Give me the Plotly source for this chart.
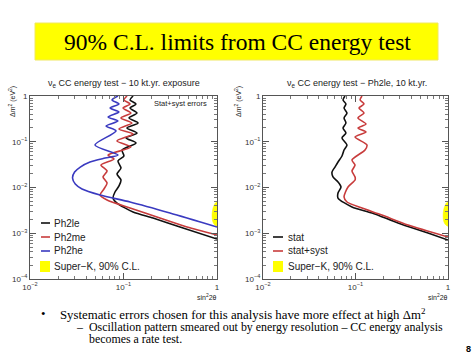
import plotly.graph_objects as go

W, H = 474, 355

# ---------------- data ----------------
# Left panel: nu_e CC energy test - 10 kt.yr. exposure (stat+syst errors)
ph2le_sin = [0.1265, 0.1175, 0.136, 0.1175, 0.1395, 0.1146, 0.143, 0.109, 0.1395, 0.1064,
             0.136, 0.0964, 0.101, 0.0873, 0.094, 0.0852, 0.094, 0.0895, 0.0811, 0.0773,
             0.0852, 0.1265, 0.207, 0.402, 1.0]
ph2le_dm2 = [1.0, 0.818, 0.669, 0.547, 0.425, 0.331, 0.257, 0.200, 0.155, 0.121,
             0.094, 0.066, 0.0488, 0.038, 0.0267, 0.0197, 0.0146, 0.0108, 0.00798, 0.00589,
             0.00458, 0.00291, 0.00215, 0.00137, 0.000748]

ph2me_sin = [0.109, 0.101, 0.1175, 0.0988, 0.120, 0.094, 0.123, 0.0895, 0.1265, 0.0852,
             0.120, 0.0683, 0.0791, 0.0574, 0.0667, 0.0604, 0.0667, 0.0618, 0.0561, 0.0667,
             0.1175, 0.245, 0.478, 1.0]
ph2me_dm2 = [1.0, 0.818, 0.669, 0.547, 0.425, 0.331, 0.257, 0.190, 0.148, 0.104,
             0.0767, 0.0513, 0.042, 0.031, 0.023, 0.017, 0.0125, 0.00927, 0.00686, 0.00533,
             0.00356, 0.00215, 0.00137, 0.000916]

ph2he_sin = [0.0873, 0.0753, 0.0895, 0.0718, 0.0895, 0.0683, 0.0873, 0.065, 0.0832, 0.0495,
             0.0873, 0.0634, 0.0438, 0.0345, 0.030, 0.0285, 0.0305, 0.036, 0.0561, 0.1175,
             0.314, 1.0]
ph2he_dm2 = [1.0, 0.818, 0.669, 0.547, 0.447, 0.347, 0.284, 0.221, 0.172, 0.085,
             0.0513, 0.0441, 0.0361, 0.028, 0.0218, 0.0161, 0.0119, 0.00927, 0.00686, 0.00482,
             0.00277, 0.00137]

# Right panel: nu_e CC energy test - Ph2le, 10 kt.yr.
stat_sin = [0.0769, 0.0733, 0.0788, 0.0752, 0.0809, 0.0752, 0.0788, 0.0733, 0.0788, 0.0714,
            0.0809, 0.0752, 0.0714, 0.0647, 0.060, 0.0557, 0.0571, 0.0647, 0.0697, 0.0647,
            0.0647, 0.0916, 0.151, 0.288, 0.608, 1.0]
stat_dm2 = [1.0, 0.818, 0.669, 0.547, 0.425, 0.331, 0.257, 0.200, 0.155, 0.121,
            0.085, 0.066, 0.0488, 0.0361, 0.028, 0.0218, 0.017, 0.0132, 0.01026, 0.00759,
            0.00589, 0.00375, 0.00277, 0.00168, 0.00101, 0.000711]

statsyst_sin = [0.1175, 0.112, 0.1236, 0.109, 0.1236, 0.1064, 0.130, 0.1064, 0.130, 0.0989,
                0.133, 0.1267, 0.0916, 0.0989, 0.0916, 0.0989, 0.0989, 0.083, 0.0752, 0.0809,
                0.1175, 0.193, 0.370, 1.0]
statsyst_dm2 = [1.0, 0.818, 0.669, 0.547, 0.425, 0.331, 0.244, 0.200, 0.163, 0.127,
                0.085, 0.066, 0.0399, 0.031, 0.023, 0.017, 0.0146, 0.01026, 0.0062, 0.00482,
                0.00356, 0.0025, 0.00151, 0.000828]

# Super-K 90% C.L. allowed region (contour)
superk_sin = [1.0, 0.96, 0.93, 0.905, 0.89, 0.885, 0.888, 0.90, 0.925, 0.96, 1.0]
superk_dm2 = [4.9e-3, 4.6e-3, 4.1e-3, 3.5e-3, 2.9e-3, 2.5e-3, 2.1e-3, 1.8e-3, 1.6e-3, 1.48e-3, 1.42e-3]

# axis ticks
y_tickvals = [1e-4, 1e-3, 1e-2, 1e-1, 1]
y_ticktext = ["10<sup>−4</sup>", "10<sup>−3</sup>", "10<sup>−2</sup>", "10<sup>−1</sup>", "1"]
x_tickvals = [1e-2, 1e-1, 1]
x_ticktext = ["10<sup>−2</sup>", "10<sup>−1</sup>", "1"]

left_legend = ["Ph2le", "Ph2me", "Ph2he"]
right_legend = ["stat", "stat+syst"]

BLACK = "#111111"
RED = "#c83c3c"
BLUE = "#3a3ac0"
YELLOW = "#ffff00"
SANS = "Liberation Sans"
SERIF = "Liberation Serif"

# ---------------- figure ----------------
def px(x):
    return x / W

def py(y):
    return 1 - y / H

fig = go.Figure()

def add_curve(xs, ys, color, xa, ya):
    fig.add_trace(go.Scatter(x=xs, y=ys, mode="lines", xaxis=xa, yaxis=ya,
                             line=dict(color=color, width=1.6, shape="spline", smoothing=0.7),
                             showlegend=False, hoverinfo="skip"))

def add_superk(xa, ya):
    fig.add_trace(go.Scatter(x=superk_sin, y=superk_dm2, mode="lines", fill="toself",
                             fillcolor=YELLOW, xaxis=xa, yaxis=ya,
                             line=dict(color=YELLOW, width=0.5, shape="spline"),
                             showlegend=False, hoverinfo="skip"))

add_superk("x", "y")
add_curve(ph2le_sin, ph2le_dm2, BLACK, "x", "y")
add_curve(ph2me_sin, ph2me_dm2, RED, "x", "y")
add_curve(ph2he_sin, ph2he_dm2, BLUE, "x", "y")

add_superk("x2", "y2")
add_curve(stat_sin, stat_dm2, BLACK, "x2", "y2")
add_curve(statsyst_sin, statsyst_dm2, RED, "x2", "y2")

y_minor = [m * 10.0 ** e for e in range(-4, 0) for m in range(2, 10)]
x_minor = [m * 10.0 ** e for e in range(-2, 0) for m in range(2, 10)]

def xaxis_cfg(domain, anchor):
    return dict(type="log", range=[-2, 0], domain=domain, anchor=anchor, automargin=False,
                tickmode="array", tickvals=x_tickvals, ticktext=x_ticktext,
                ticks="inside", ticklen=6, tickcolor="#555", mirror="allticks",
                showline=True, linecolor="#555", linewidth=1, showgrid=False, zeroline=False,
                tickfont=dict(family=SANS, size=8, color="#333"),
                minor=dict(tickmode="array", tickvals=x_minor, ticks="inside", ticklen=3,
                           tickcolor="#777", showgrid=False))

def yaxis_cfg(domain, anchor):
    return dict(type="log", range=[-4, 0], domain=domain, anchor=anchor, automargin=False,
                tickmode="array", tickvals=y_tickvals, ticktext=y_ticktext,
                ticks="inside", ticklen=6, tickcolor="#555", mirror="allticks",
                showline=True, linecolor="#555", linewidth=1, showgrid=False, zeroline=False,
                tickfont=dict(family=SANS, size=8, color="#333"),
                minor=dict(tickmode="array", tickvals=y_minor, ticks="inside", ticklen=3,
                           tickcolor="#777", showgrid=False))

ydom = [py(279), py(96)]
fig.update_layout(
    width=W, height=H, margin=dict(l=0, r=0, t=0, b=0, autoexpand=False),
    paper_bgcolor="white", plot_bgcolor="white", showlegend=False,
    xaxis=xaxis_cfg([px(30), px(217)], "y"),
    yaxis=yaxis_cfg(ydom, "x"),
    xaxis2=xaxis_cfg([px(263), px(448)], "y2"),
    yaxis2=yaxis_cfg(ydom, "x2"),
)

shapes = []
annots = []

def text(x, y, s, size, family=SANS, color="#222", xanchor="center", angle=0):
    annots.append(dict(x=px(x), y=py(y), xref="paper", yref="paper", text=s, showarrow=False,
                       xanchor=xanchor, yanchor="middle", textangle=angle, borderpad=0,
                       font=dict(family=family, size=size, color=color)))

# slide title banner
shapes.append(dict(type="rect", xref="paper", yref="paper", x0=px(35), x1=px(438),
                   y0=py(60), y1=py(23), fillcolor=YELLOW, line=dict(color="#f0e860", width=1),
                   layer="below"))
text(237, 42, "90% C.L. limits from CC energy test", 23.5, SERIF, "#000")

# panel titles
text(124, 83, "ν<sub>e</sub> CC energy test − 10 kt.yr. exposure", 9)
text(357, 83, "ν<sub>e</sub> CC energy test − Ph2le, 10 kt.yr.", 9)

# axis titles
for xl in (12, 238):
    text(xl, 102, "Δm<sup>2</sup> (eV<sup>2</sup>)", 7, angle=-90)
for xr in (207, 438):
    text(xr, 297, "sin<sup>2</sup>2θ", 7)

text(180, 103, "Stat+syst errors", 7.5)

# legends
def legend_line(x0, x1, y, color):
    shapes.append(dict(type="line", xref="paper", yref="paper", x0=px(x0), x1=px(x1),
                       y0=py(y), y1=py(y), line=dict(color=color, width=1.6)))

def legend_box(x0, x1, y0, y1):
    shapes.append(dict(type="rect", xref="paper", yref="paper", x0=px(x0), x1=px(x1),
                       y0=py(y1), y1=py(y0), fillcolor=YELLOW, line=dict(width=0)))

for label, color, yy in zip(left_legend, [BLACK, RED, BLUE], [223, 237, 251]):
    legend_line(41, 50, yy, color)
    text(53, yy, label, 10, xanchor="left")
legend_box(40, 50, 261, 272)
text(53, 266, "Super−K, 90% C.L.", 10, xanchor="left")

for label, color, yy in zip(right_legend, [BLACK, RED], [237, 251]):
    legend_line(273, 283, yy, color)
    text(287, yy, label, 10, xanchor="left")
legend_box(273, 283, 261, 272)
text(287, 266, "Super−K, 90% C.L.", 10, xanchor="left")

# bullet text
text(43, 314, "•", 12.8, SERIF, "#000")
text(59, 314, "Systematic errors chosen for this analysis have more effect at high Δm<sup>2</sup>",
     12.8, SERIF, "#000", xanchor="left")
text(80, 327, "–", 11.9, SERIF, "#000")
text(88, 327, "Oscillation pattern smeared out by energy resolution – CC energy analysis",
     11.9, SERIF, "#000", xanchor="left")
text(88, 339, "becomes a rate test.", 11.9, SERIF, "#000", xanchor="left")
annots.append(dict(x=px(468), y=py(349), xref="paper", yref="paper", text="<b>8</b>",
                   showarrow=False, xanchor="center", yanchor="middle", borderpad=0,
                   font=dict(family=SANS, size=9, color="#000")))

fig.update_layout(shapes=shapes, annotations=annots)
fig.write_html("out.html", config={"displayModeBar": False},
               post_script="document.body.style.margin='0';document.body.style.overflow='hidden';")
